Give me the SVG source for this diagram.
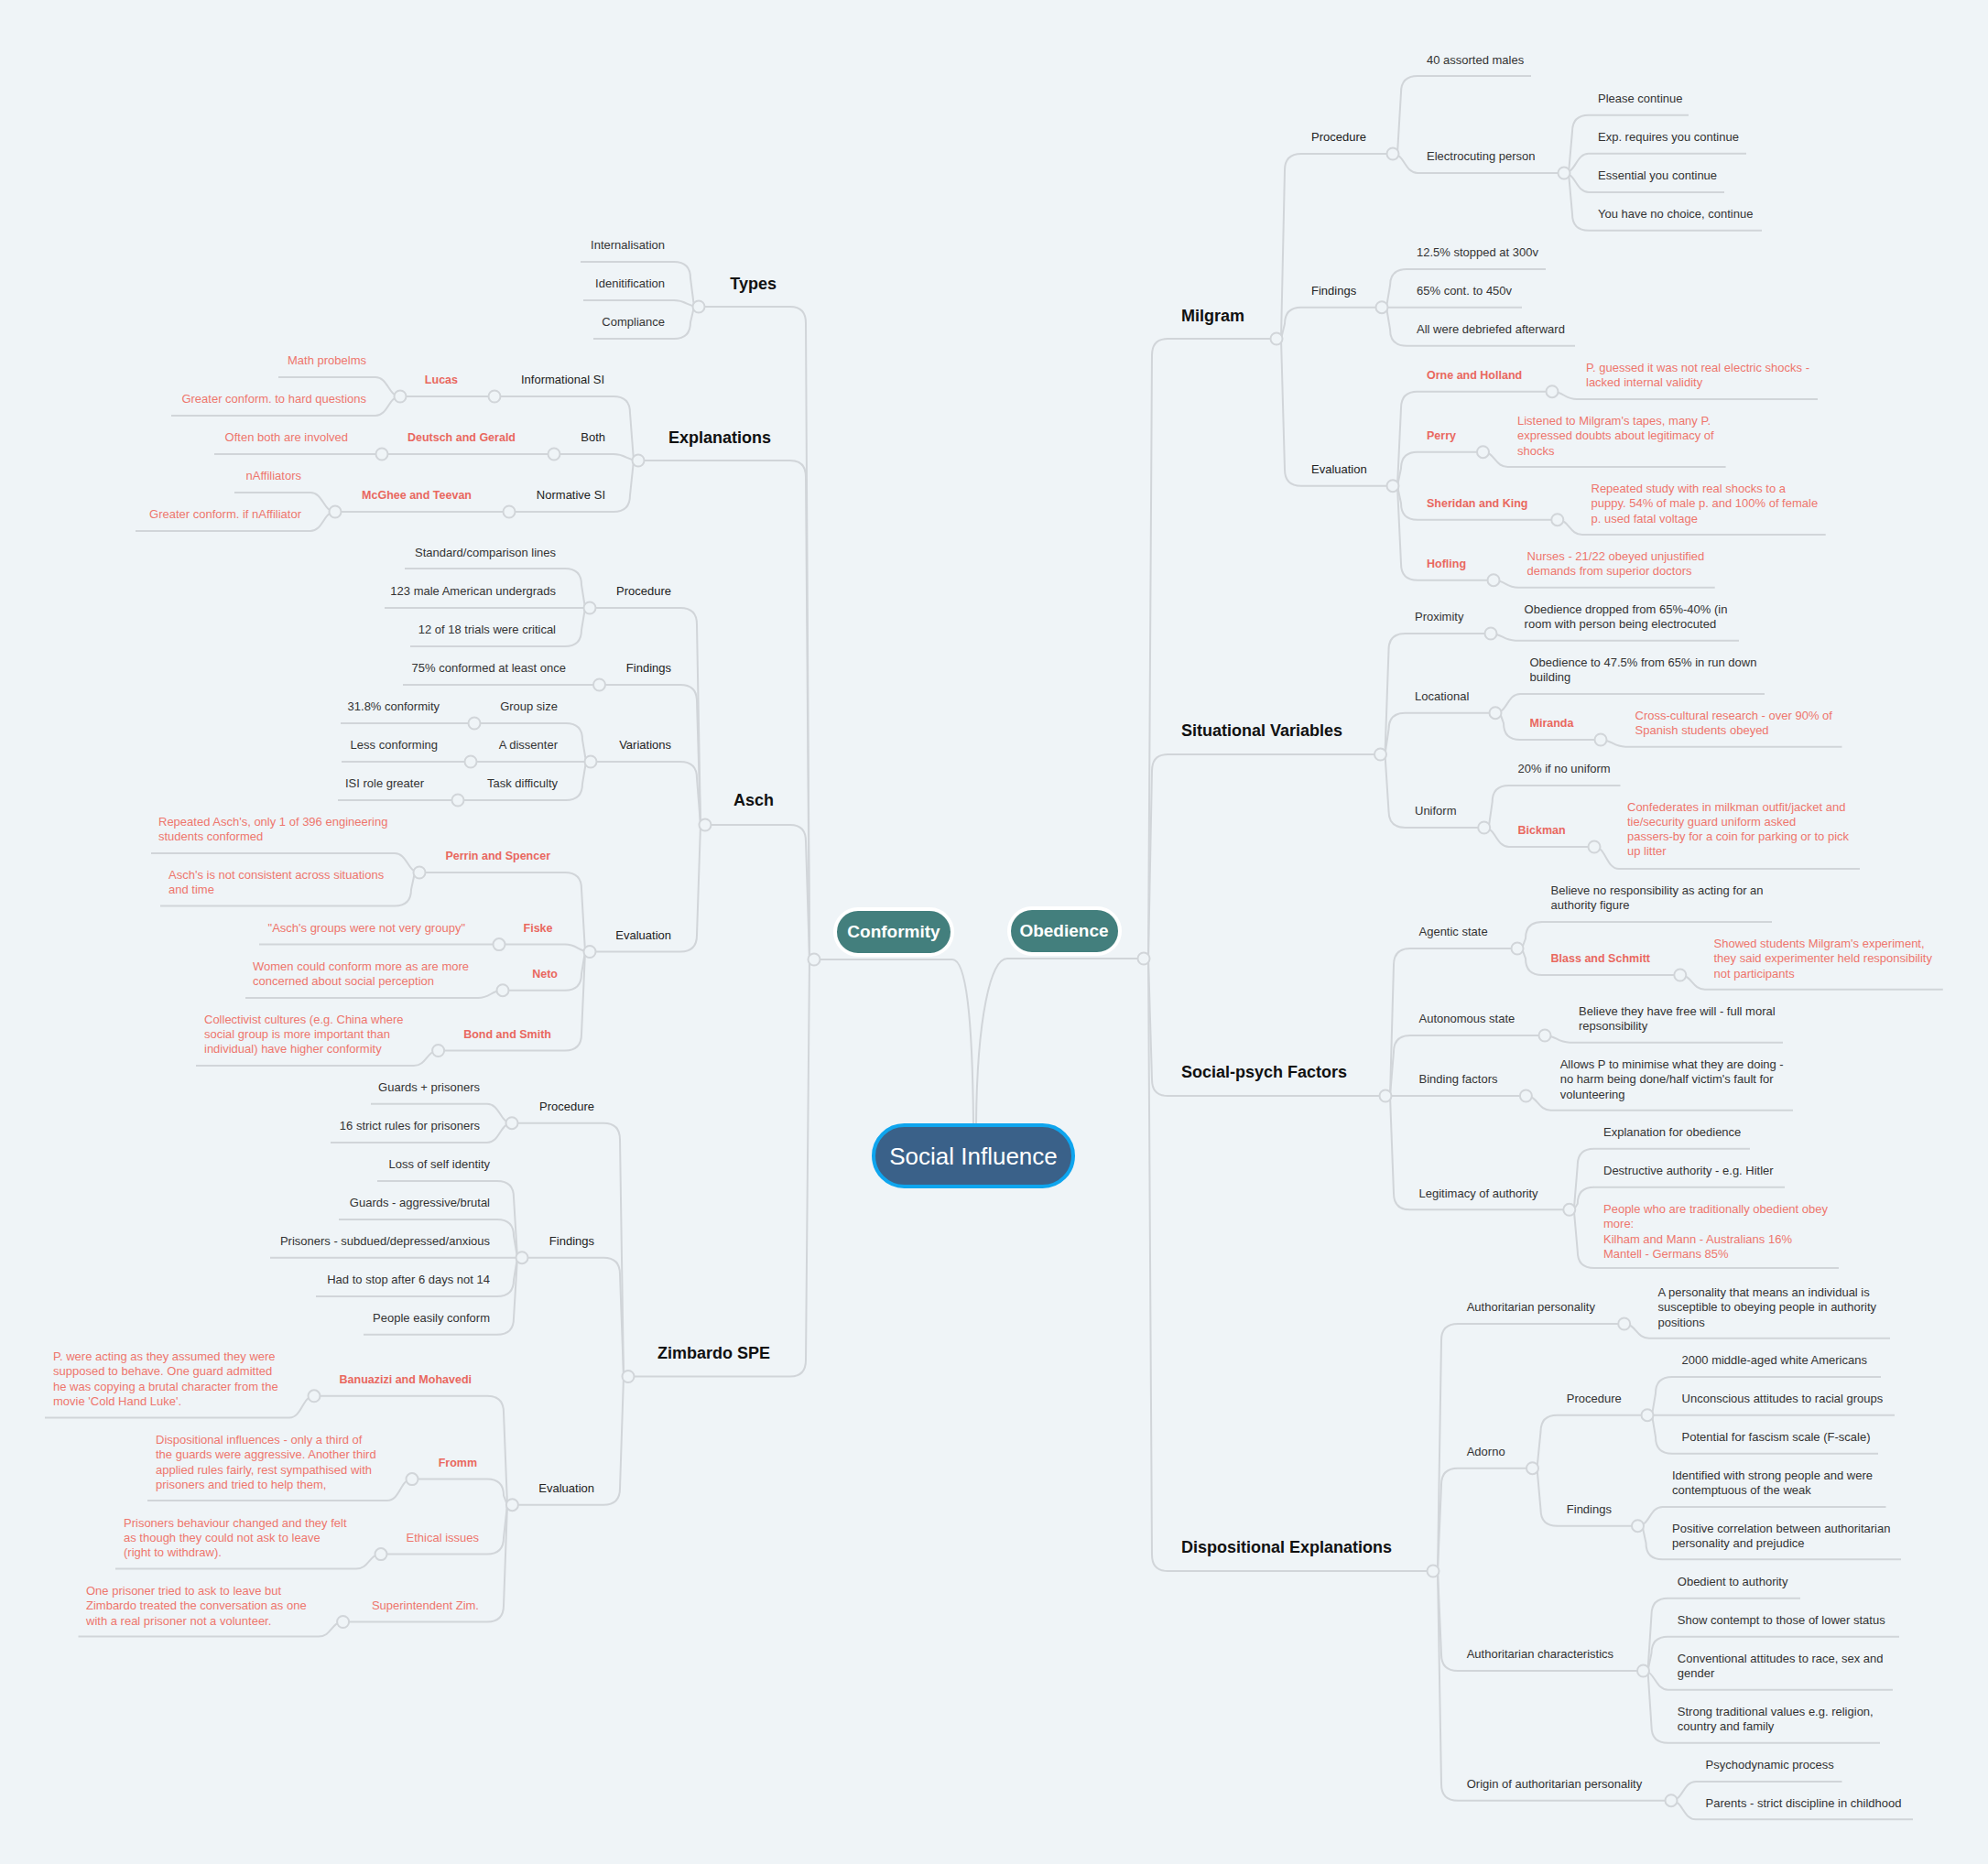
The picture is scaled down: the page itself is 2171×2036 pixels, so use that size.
<svg xmlns="http://www.w3.org/2000/svg" width="2171" height="2036" viewBox="0 0 2171 2036">
<style>
.ln{fill:none;stroke:#d1d5d9;stroke-width:2}
.dot{fill:#eff4f7;stroke:#d1d5d9;stroke-width:2}
text{font-family:"Liberation Sans",Arial,sans-serif;font-size:13px;fill:#333}
.e{text-anchor:end}
.r{fill:#ee766d}
.rb{fill:#e9685f;font-weight:bold;font-size:12.5px}
.h{fill:#111;font-weight:bold;font-size:18px}
.lbl{fill:#222}
.pill{fill:#437f7d;stroke:#fff;stroke-width:4}
.pt{fill:#fff;font-weight:bold;font-size:19px;text-anchor:middle}
</style>
<rect width="2171" height="2036" fill="#eff4f7"/>
<g id="connectors">
<path class="ln" d="M889 1048 H1040 C1055 1048 1062 1110 1063 1228"/>
<path class="ln" d="M1249 1047 H1100 C1082 1047 1067 1110 1066 1228"/>
<path class="ln" d="M763 335 H863 Q880 335 880 353 L884 1048"/>
<path class="ln" d="M697 503 H863 Q880 503 880 521 L884 1048"/>
<path class="ln" d="M770 901 H863 Q880 901 880 919 L884 1048"/>
<path class="ln" d="M686 1503.5 H863 Q880 1503.5 880 1485.5 L884 1048"/>
<path class="ln" d="M634 286 H736 Q754 286 754 304 L758 335"/>
<path class="ln" d="M637 328 H736 C750 328 750 335 763 335"/>
<path class="ln" d="M648 370 H736 Q754 370 754 352 L758 335"/>
<path class="ln" d="M540 433 H670 Q688 433 688 451 L692 503"/>
<path class="ln" d="M605 496 H670 C684 496 684 503 697 503"/>
<path class="ln" d="M556 559 H670 Q688 559 688 541 L692 503"/>
<path class="ln" d="M437 433 H540"/>
<path class="ln" d="M304 412 H410 C424 412 424 433 437 433"/>
<path class="ln" d="M187 454 H410 C424 454 424 433 437 433"/>
<path class="ln" d="M417 496 H605"/>
<path class="ln" d="M234 496 H417"/>
<path class="ln" d="M366 559 H556"/>
<path class="ln" d="M256 538 H339 C353 538 353 559 366 559"/>
<path class="ln" d="M148 580 H339 C353 580 353 559 366 559"/>
<path class="ln" d="M644 664 H743 Q761 664 761 682 L765 901"/>
<path class="ln" d="M654.5 748 H743 Q761 748 761 766 L765 901"/>
<path class="ln" d="M645 832 H743 Q761 832 761 850 L765 901"/>
<path class="ln" d="M644 1039.5 H743 Q761 1039.5 761 1021.5 L765 901"/>
<path class="ln" d="M442 621 H617 Q635 621 635 639 L639 664"/>
<path class="ln" d="M420 664 H644"/>
<path class="ln" d="M448 706 H617 Q635 706 635 688 L639 664"/>
<path class="ln" d="M440 748 H654.5"/>
<path class="ln" d="M518 790 H618 Q636 790 636 808 L640 832"/>
<path class="ln" d="M514 832 H645"/>
<path class="ln" d="M500 874 H618 Q636 874 636 856 L640 832"/>
<path class="ln" d="M372 790 H518"/>
<path class="ln" d="M373 832 H514"/>
<path class="ln" d="M369 874 H500"/>
<path class="ln" d="M458 953 H617 Q635 953 635 971 L639 1039.5"/>
<path class="ln" d="M545 1031.6 H617 C631 1031.6 631 1039.5 644 1039.5"/>
<path class="ln" d="M549 1081.7 H617 Q635 1081.7 635 1063.7 L639 1039.5"/>
<path class="ln" d="M478.6 1147.5 H617 Q635 1147.5 635 1129.5 L639 1039.5"/>
<path class="ln" d="M165 932 H431 C445 932 445 953 458 953"/>
<path class="ln" d="M175 989.5 H431 Q449 989.5 449 971.5 L453 953"/>
<path class="ln" d="M283 1031.6 H545"/>
<path class="ln" d="M268 1090 H522 C536 1090 536 1081.7 549 1081.7"/>
<path class="ln" d="M214 1164 H452 C466 1164 466 1147.5 478.6 1147.5"/>
<path class="ln" d="M559 1226.7 H659 Q677 1226.7 677 1244.7 L681 1503.5"/>
<path class="ln" d="M570 1373.7 H659 Q677 1373.7 677 1391.7 L681 1503.5"/>
<path class="ln" d="M559.4 1643.7 H659 Q677 1643.7 677 1625.7 L681 1503.5"/>
<path class="ln" d="M405 1205.8 H532 C546 1205.8 546 1226.7 559 1226.7"/>
<path class="ln" d="M361 1248 H532 C546 1248 546 1226.7 559 1226.7"/>
<path class="ln" d="M412 1290 H543 Q561 1290 561 1308 L565 1373.7"/>
<path class="ln" d="M370 1332 H543 Q561 1332 561 1350 L565 1373.7"/>
<path class="ln" d="M295 1373.7 H570"/>
<path class="ln" d="M345 1416 H543 Q561 1416 561 1398 L565 1373.7"/>
<path class="ln" d="M397 1457.7 H543 Q561 1457.7 561 1439.7 L565 1373.7"/>
<path class="ln" d="M343 1524.8 H532 Q550 1524.8 550 1542.8 L554 1643.7"/>
<path class="ln" d="M450 1615.6 H532 Q550 1615.6 550 1633.6 L554 1643.7"/>
<path class="ln" d="M416 1697.6 H532 Q550 1697.6 550 1679.6 L554 1643.7"/>
<path class="ln" d="M374.6 1771.5 H532 Q550 1771.5 550 1753.5 L554 1643.7"/>
<path class="ln" d="M49 1548.5 H316 C330 1548.5 330 1524.8 343 1524.8"/>
<path class="ln" d="M161 1639 H423 C437 1639 437 1615.6 450 1615.6"/>
<path class="ln" d="M126 1713.6 H389 C403 1713.6 403 1697.6 416 1697.6"/>
<path class="ln" d="M85.5 1787.6 H348 C362 1787.6 362 1771.5 374.6 1771.5"/>
<path class="ln" d="M1394 370 H1275 Q1258 370 1258 388 L1254 1047"/>
<path class="ln" d="M1507.5 824 H1275 Q1258 824 1258 842 L1254 1047"/>
<path class="ln" d="M1513 1197 H1275 Q1258 1197 1258 1179 L1254 1047"/>
<path class="ln" d="M1565 1716 H1275 Q1258 1716 1258 1698 L1254 1047"/>
<path class="ln" d="M1521 168 H1421 Q1403 168 1403 186 L1399 370"/>
<path class="ln" d="M1509 335.7 H1421 Q1403 335.7 1403 353.7 L1399 370"/>
<path class="ln" d="M1521 530.7 H1421 Q1403 530.7 1403 512.7 L1399 370"/>
<path class="ln" d="M1672 83 H1548 Q1530 83 1530 101 L1526 168"/>
<path class="ln" d="M1708 189 H1548 C1534 189 1534 168 1521 168"/>
<path class="ln" d="M1844 125.7 H1735 Q1717 125.7 1717 143.7 L1713 189"/>
<path class="ln" d="M1907 167.7 H1735 C1721 167.7 1721 189 1708 189"/>
<path class="ln" d="M1883 210 H1735 C1721 210 1721 189 1708 189"/>
<path class="ln" d="M1924 251.7 H1735 Q1717 251.7 1717 233.7 L1713 189"/>
<path class="ln" d="M1688 294 H1536 Q1518 294 1518 312 L1514 335.7"/>
<path class="ln" d="M1662 335.7 H1509"/>
<path class="ln" d="M1720 377.7 H1536 Q1518 377.7 1518 359.7 L1514 335.7"/>
<path class="ln" d="M1695 427.7 H1548 Q1530 427.7 1530 445.7 L1526 530.7"/>
<path class="ln" d="M1619.5 493.7 H1548 Q1530 493.7 1530 511.7 L1526 530.7"/>
<path class="ln" d="M1700.8 567.7 H1548 Q1530 567.7 1530 549.7 L1526 530.7"/>
<path class="ln" d="M1631 633.7 H1548 Q1530 633.7 1530 615.7 L1526 530.7"/>
<path class="ln" d="M1985 436 H1722 C1708 436 1708 427.7 1695 427.7"/>
<path class="ln" d="M1884.6 510 H1646.5 C1632.5 510 1632.5 493.7 1619.5 493.7"/>
<path class="ln" d="M1993.7 584 H1727.8 C1713.8 584 1713.8 567.7 1700.8 567.7"/>
<path class="ln" d="M1872.7 641.7 H1658 C1644 641.7 1644 633.7 1631 633.7"/>
<path class="ln" d="M1628 692 H1534.5 Q1516.5 692 1516.5 710 L1512.5 824"/>
<path class="ln" d="M1633 778.7 H1534.5 Q1516.5 778.7 1516.5 796.7 L1512.5 824"/>
<path class="ln" d="M1620.7 904 H1534.5 Q1516.5 904 1516.5 886 L1512.5 824"/>
<path class="ln" d="M1899 699.7 H1655 C1641 699.7 1641 692 1628 692"/>
<path class="ln" d="M1927 758 H1660 C1646 758 1646 778.7 1633 778.7"/>
<path class="ln" d="M1748 808 H1660 Q1642 808 1642 790 L1638 778.7"/>
<path class="ln" d="M2011.5 815.7 H1775 C1761 815.7 1761 808 1748 808"/>
<path class="ln" d="M1769.5 858 H1647.7 Q1629.7 858 1629.7 876 L1625.7 904"/>
<path class="ln" d="M1741 925 H1647.7 C1633.7 925 1633.7 904 1620.7 904"/>
<path class="ln" d="M2031 949 H1768 C1754 949 1754 925 1741 925"/>
<path class="ln" d="M1657 1036 H1540 Q1522 1036 1522 1054 L1518 1197"/>
<path class="ln" d="M1687 1131 H1540 Q1522 1131 1522 1149 L1518 1197"/>
<path class="ln" d="M1666.4 1197 H1513"/>
<path class="ln" d="M1713.8 1321.3 H1540 Q1522 1321.3 1522 1303.3 L1518 1197"/>
<path class="ln" d="M1935 1007 H1684 Q1666 1007 1666 1025 L1662 1036"/>
<path class="ln" d="M1834.8 1065 H1684 Q1666 1065 1666 1047 L1662 1036"/>
<path class="ln" d="M2121.8 1080.7 H1861.8 C1847.8 1080.7 1847.8 1065 1834.8 1065"/>
<path class="ln" d="M1947 1138.7 H1714 C1700 1138.7 1700 1131 1687 1131"/>
<path class="ln" d="M1958 1212.7 H1693.4 C1679.4 1212.7 1679.4 1197 1666.4 1197"/>
<path class="ln" d="M1911 1254.7 H1740.8 Q1722.8 1254.7 1722.8 1272.7 L1718.8 1321.3"/>
<path class="ln" d="M1949 1296.7 H1740.8 Q1722.8 1296.7 1722.8 1314.7 L1718.8 1321.3"/>
<path class="ln" d="M2008 1385 H1740.8 Q1722.8 1385 1722.8 1367 L1718.8 1321.3"/>
<path class="ln" d="M1773.7 1446 H1592 Q1574 1446 1574 1464 L1570 1716"/>
<path class="ln" d="M1673.5 1603.7 H1592 Q1574 1603.7 1574 1621.7 L1570 1716"/>
<path class="ln" d="M1794.5 1825 H1592 Q1574 1825 1574 1807 L1570 1716"/>
<path class="ln" d="M1825 1966.7 H1592 Q1574 1966.7 1574 1948.7 L1570 1716"/>
<path class="ln" d="M2064 1461.7 H1800.7 C1786.7 1461.7 1786.7 1446 1773.7 1446"/>
<path class="ln" d="M1799 1545.7 H1700.5 Q1682.5 1545.7 1682.5 1563.7 L1678.5 1603.7"/>
<path class="ln" d="M1788.5 1666.7 H1700.5 Q1682.5 1666.7 1682.5 1648.7 L1678.5 1603.7"/>
<path class="ln" d="M2054 1504 H1826 Q1808 1504 1808 1522 L1804 1545.7"/>
<path class="ln" d="M2069 1545.7 H1799"/>
<path class="ln" d="M2051 1587.7 H1826 Q1808 1587.7 1808 1569.7 L1804 1545.7"/>
<path class="ln" d="M2059.5 1646 H1815.5 C1801.5 1646 1801.5 1666.7 1788.5 1666.7"/>
<path class="ln" d="M2076 1703.3 H1815.5 Q1797.5 1703.3 1797.5 1685.3 L1793.5 1666.7"/>
<path class="ln" d="M1966 1745.7 H1821.5 Q1803.5 1745.7 1803.5 1763.7 L1799.5 1825"/>
<path class="ln" d="M2074 1787.7 H1821.5 Q1803.5 1787.7 1803.5 1805.7 L1799.5 1825"/>
<path class="ln" d="M2067 1845.7 H1821.5 C1807.5 1845.7 1807.5 1825 1794.5 1825"/>
<path class="ln" d="M2053 1903.7 H1821.5 Q1803.5 1903.7 1803.5 1885.7 L1799.5 1825"/>
<path class="ln" d="M2011.5 1946 H1852 C1838 1946 1838 1966.7 1825 1966.7"/>
<path class="ln" d="M2089 1987.3 H1852 C1838 1987.3 1838 1966.7 1825 1966.7"/>
</g>

<g id="root"><rect x="954" y="1229" width="218" height="67" rx="33.5" fill="#3a6189" stroke="#0ea5ee" stroke-width="4"/><text x="1063" y="1272" style="font-size:26px;fill:#fff;text-anchor:middle">Social Influence</text></g>
<g id="conformity"><rect class="pill" x="912" y="993" width="128" height="50" rx="25"/><text class="pt" x="976" y="1024">Conformity</text><circle class="dot" cx="889" cy="1048" r="6.5"/></g>
<g id="obedience"><rect class="pill" x="1102" y="992" width="121" height="50" rx="25"/><text class="pt" x="1162" y="1023">Obedience</text><circle class="dot" cx="1249" cy="1047" r="6.5"/></g>

<g id="types"><text class="h e" x="848" y="315.5">Types</text><circle class="dot" cx="763" cy="335" r="6.5"/></g>
<g id="internalisation"><text class="e" x="726" y="271.5">Internalisation</text></g>
<g id="identification"><text class="e" x="726" y="313.5">Idenitification</text></g>
<g id="compliance"><text class="e" x="726" y="355.5">Compliance</text></g>

<g id="explanations"><text class="h e" x="842" y="483.5">Explanations</text><circle class="dot" cx="697" cy="503" r="6.5"/></g>
<g id="informational"><text class="lbl e" x="660" y="418.5">Informational SI</text><circle class="dot" cx="540" cy="433" r="6.5"/></g>
<g id="lucas"><text class="rb e" x="500" y="418.5">Lucas</text><circle class="dot" cx="437" cy="433" r="6.5"/></g>
<g id="math"><text class="r e" x="400" y="397.5">Math probelms</text></g>
<g id="greater-hard"><text class="r e" x="400" y="439.5">Greater conform. to hard questions</text></g>
<g id="both"><text class="lbl e" x="661" y="481.5">Both</text><circle class="dot" cx="605" cy="496" r="6.5"/></g>
<g id="deutsch"><text class="rb e" x="563" y="481.5">Deutsch and Gerald</text><circle class="dot" cx="417" cy="496" r="6.5"/></g>
<g id="often-both"><text class="r e" x="380" y="481.5">Often both are involved</text></g>
<g id="normative"><text class="lbl e" x="661" y="544.5">Normative SI</text><circle class="dot" cx="556" cy="559" r="6.5"/></g>
<g id="mcghee"><text class="rb e" x="515" y="544.5">McGhee and Teevan</text><circle class="dot" cx="366" cy="559" r="6.5"/></g>
<g id="naffiliators"><text class="r e" x="329" y="523.5">nAffiliators</text></g>
<g id="greater-naff"><text class="r e" x="329" y="565.5">Greater conform. if nAffiliator</text></g>

<g id="asch"><text class="h e" x="845" y="880">Asch</text><circle class="dot" cx="770" cy="901" r="6.5"/></g>
<g id="asch-procedure"><text class="lbl e" x="733" y="649.5">Procedure</text><circle class="dot" cx="644" cy="664" r="6.5"/></g>
<g id="standard"><text class="e" x="607" y="607.5">Standard/comparison lines</text></g>
<g id="male123"><text class="e" x="607" y="649.5">123 male American undergrads</text></g>
<g id="trials"><text class="e" x="607" y="691.5">12 of 18 trials were critical</text></g>
<g id="asch-findings"><text class="lbl e" x="733" y="733.5">Findings</text><circle class="dot" cx="654.5" cy="748" r="6.5"/></g>
<g id="conformed75"><text class="e" x="618" y="733.5">75% conformed at least once</text></g>
<g id="variations"><text class="lbl e" x="733" y="817.5">Variations</text><circle class="dot" cx="645" cy="832" r="6.5"/></g>
<g id="group-size"><text class="e" x="609" y="775.5">Group size</text><circle class="dot" cx="518" cy="790" r="6.5"/></g>
<g id="conf318"><text class="e" x="480" y="775.5">31.8% conformity</text></g>
<g id="dissenter"><text class="e" x="609" y="817.5">A dissenter</text><circle class="dot" cx="514" cy="832" r="6.5"/></g>
<g id="less-conf"><text class="e" x="478" y="817.5">Less conforming</text></g>
<g id="task-diff"><text class="e" x="609" y="859.5">Task difficulty</text><circle class="dot" cx="500" cy="874" r="6.5"/></g>
<g id="isi-role"><text class="e" x="463" y="859.5">ISI role greater</text></g>
<g id="asch-eval"><text class="lbl e" x="733" y="1026">Evaluation</text><circle class="dot" cx="644" cy="1039.5" r="6.5"/></g>
<g id="perrin"><text class="rb e" x="601" y="939">Perrin and Spencer</text><circle class="dot" cx="458" cy="953" r="6.5"/></g>
<g id="perrin-1"><text class="r"><tspan x="173" y="901.5">Repeated Asch's, only 1 of 396 engineering</tspan><tspan x="173" y="918">students conformed</tspan></text></g>
<g id="perrin-2"><text class="r"><tspan x="184" y="959.5">Asch's is not consistent across situations</tspan><tspan x="184" y="976">and time</tspan></text></g>
<g id="fiske"><text class="rb e" x="603.5" y="1017.5">Fiske</text><circle class="dot" cx="545" cy="1031.6" r="6.5"/></g>
<g id="fiske-1"><text class="r e" x="508" y="1017.5">"Asch's groups were not very groupy"</text></g>
<g id="neto"><text class="rb e" x="609" y="1067.5">Neto</text><circle class="dot" cx="549" cy="1081.7" r="6.5"/></g>
<g id="neto-1"><text class="r"><tspan x="276" y="1059.5">Women could conform more as are more</tspan><tspan x="276" y="1076">concerned about social perception</tspan></text></g>
<g id="bond"><text class="rb e" x="602" y="1134">Bond and Smith</text><circle class="dot" cx="478.6" cy="1147.5" r="6.5"/></g>
<g id="bond-1"><text class="r"><tspan x="223" y="1117.5">Collectivist cultures (e.g. China where</tspan><tspan x="223" y="1134">social group is more important than</tspan><tspan x="223" y="1150.3">individual) have higher conformity</tspan></text></g>

<g id="zimbardo"><text class="h e" x="841" y="1484.3">Zimbardo SPE</text><circle class="dot" cx="686" cy="1503.5" r="6.5"/></g>
<g id="zim-procedure"><text class="lbl e" x="649" y="1213">Procedure</text><circle class="dot" cx="559" cy="1226.7" r="6.5"/></g>
<g id="guards-prisoners"><text class="e" x="524" y="1192">Guards + prisoners</text></g>
<g id="rules16"><text class="e" x="524" y="1234">16 strict rules for prisoners</text></g>
<g id="zim-findings"><text class="lbl e" x="649" y="1359.5">Findings</text><circle class="dot" cx="570" cy="1373.7" r="6.5"/></g>
<g id="loss-self"><text class="e" x="535" y="1275.5">Loss of self identity</text></g>
<g id="guards-agg"><text class="e" x="535" y="1318">Guards - aggressive/brutal</text></g>
<g id="prisoners-sub"><text class="e" x="535" y="1359.5">Prisoners - subdued/depressed/anxious</text></g>
<g id="had-stop"><text class="e" x="535" y="1401.5">Had to stop after 6 days not 14</text></g>
<g id="people-conform"><text class="e" x="535" y="1444">People easily conform</text></g>
<g id="zim-eval"><text class="lbl e" x="649" y="1629.5">Evaluation</text><circle class="dot" cx="559.4" cy="1643.7" r="6.5"/></g>
<g id="banuazizi"><text class="rb e" x="515" y="1510.5">Banuazizi and Mohavedi</text><circle class="dot" cx="343" cy="1524.8" r="6.5"/></g>
<g id="banuazizi-1"><text class="r"><tspan x="58" y="1486">P. were acting as they assumed they were</tspan><tspan x="58" y="1502.3">supposed to behave. One guard admitted</tspan><tspan x="58" y="1518.6">he was copying a brutal character from the</tspan><tspan x="58" y="1534.9">movie 'Cold Hand Luke'.</tspan></text></g>
<g id="fromm"><text class="rb e" x="521" y="1601.5">Fromm</text><circle class="dot" cx="450" cy="1615.6" r="6.5"/></g>
<g id="fromm-1"><text class="r"><tspan x="170" y="1577">Dispositional influences - only a third of</tspan><tspan x="170" y="1593.3">the guards were aggressive. Another third</tspan><tspan x="170" y="1609.6">applied rules fairly, rest sympathised with</tspan><tspan x="170" y="1625.9">prisoners and tried to help them,</tspan></text></g>
<g id="ethical"><text class="r e" x="523" y="1683.5">Ethical issues</text><circle class="dot" cx="416" cy="1697.6" r="6.5"/></g>
<g id="ethical-1"><text class="r"><tspan x="135" y="1667.5">Prisoners behaviour changed and they felt</tspan><tspan x="135" y="1683.8">as though they could not ask to leave</tspan><tspan x="135" y="1700.1">(right to withdraw).</tspan></text></g>
<g id="superintendent"><text class="r e" x="523" y="1757.5">Superintendent Zim.</text><circle class="dot" cx="374.6" cy="1771.5" r="6.5"/></g>
<g id="superintendent-1"><text class="r"><tspan x="94" y="1742">One prisoner tried to ask to leave but</tspan><tspan x="94" y="1758.3">Zimbardo treated the conversation as one</tspan><tspan x="94" y="1774.6">with a real prisoner not a volunteer.</tspan></text></g>

<g id="milgram"><text class="h" x="1290" y="350.5">Milgram</text><circle class="dot" cx="1394" cy="370" r="6.5"/></g>
<g id="mil-procedure"><text class="lbl" x="1432" y="153.5">Procedure</text><circle class="dot" cx="1521" cy="168" r="6.5"/></g>
<g id="males40"><text x="1558" y="70">40 assorted males</text></g>
<g id="electrocuting"><text x="1558" y="174.5">Electrocuting person</text><circle class="dot" cx="1708" cy="189" r="6.5"/></g>
<g id="please"><text x="1745" y="111.5">Please continue</text></g>
<g id="exp-requires"><text x="1745" y="153.5">Exp. requires you continue</text></g>
<g id="essential"><text x="1745" y="195.5">Essential you continue</text></g>
<g id="no-choice"><text x="1745" y="237.5">You have no choice, continue</text></g>
<g id="mil-findings"><text class="lbl" x="1432" y="321.5">Findings</text><circle class="dot" cx="1509" cy="335.7" r="6.5"/></g>
<g id="stopped"><text x="1547" y="280">12.5% stopped at 300v</text></g>
<g id="cont65"><text x="1547" y="321.5">65% cont. to 450v</text></g>
<g id="debriefed"><text x="1547" y="363.5">All were debriefed afterward</text></g>
<g id="mil-eval"><text class="lbl" x="1432" y="516.5">Evaluation</text><circle class="dot" cx="1521" cy="530.7" r="6.5"/></g>
<g id="orne"><text class="rb" x="1558" y="413.5">Orne and Holland</text><circle class="dot" cx="1695" cy="427.7" r="6.5"/></g>
<g id="orne-1"><text class="r"><tspan x="1732" y="406">P. guessed it was not real electric shocks -</tspan><tspan x="1732" y="422.3">lacked internal validity</tspan></text></g>
<g id="perry"><text class="rb" x="1558" y="480">Perry</text><circle class="dot" cx="1619.5" cy="493.7" r="6.5"/></g>
<g id="perry-1"><text class="r"><tspan x="1657" y="464">Listened to Milgram's tapes, many P.</tspan><tspan x="1657" y="480.3">expressed doubts about legitimacy of</tspan><tspan x="1657" y="496.6">shocks</tspan></text></g>
<g id="sheridan"><text class="rb" x="1558" y="553.5">Sheridan and King</text><circle class="dot" cx="1700.8" cy="567.7" r="6.5"/></g>
<g id="sheridan-1"><text class="r"><tspan x="1737.5" y="538">Repeated study with real shocks to a</tspan><tspan x="1737.5" y="554.3">puppy. 54% of male p. and 100% of female</tspan><tspan x="1737.5" y="570.6">p. used fatal voltage</tspan></text></g>
<g id="hofling"><text class="rb" x="1558" y="620">Hofling</text><circle class="dot" cx="1631" cy="633.7" r="6.5"/></g>
<g id="hofling-1"><text class="r"><tspan x="1667.6" y="612">Nurses - 21/22 obeyed unjustified</tspan><tspan x="1667.6" y="628.3">demands from superior doctors</tspan></text></g>

<g id="situational"><text class="h" x="1290" y="803.5">Situational Variables</text><circle class="dot" cx="1507.5" cy="824" r="6.5"/></g>
<g id="proximity"><text x="1545" y="677.5">Proximity</text><circle class="dot" cx="1628" cy="692" r="6.5"/></g>
<g id="proximity-1"><text><tspan x="1664.6" y="670">Obedience dropped from 65%-40% (in</tspan><tspan x="1664.6" y="686.3">room with person being electrocuted</tspan></text></g>
<g id="locational"><text x="1545" y="764.5">Locational</text><circle class="dot" cx="1633" cy="778.7" r="6.5"/></g>
<g id="locational-1"><text><tspan x="1670.5" y="728">Obedience to 47.5% from 65% in run down</tspan><tspan x="1670.5" y="744.3">building</tspan></text></g>
<g id="miranda"><text class="rb" x="1670.5" y="794">Miranda</text><circle class="dot" cx="1748" cy="808" r="6.5"/></g>
<g id="miranda-1"><text class="r"><tspan x="1785.6" y="786">Cross-cultural research - over 90% of</tspan><tspan x="1785.6" y="802.3">Spanish students obeyed</tspan></text></g>
<g id="uniform"><text x="1545" y="890">Uniform</text><circle class="dot" cx="1620.7" cy="904" r="6.5"/></g>
<g id="no-uniform"><text x="1657.5" y="844">20% if no uniform</text></g>
<g id="bickman"><text class="rb" x="1657.5" y="911">Bickman</text><circle class="dot" cx="1741" cy="925" r="6.5"/></g>
<g id="bickman-1"><text class="r"><tspan x="1777" y="885.5">Confederates in milkman outfit/jacket and</tspan><tspan x="1777" y="901.8">tie/security guard uniform asked</tspan><tspan x="1777" y="918.1">passers-by for a coin for parking or to pick</tspan><tspan x="1777" y="934.4">up litter</tspan></text></g>

<g id="socialpsych"><text class="h" x="1290" y="1177">Social-psych Factors</text><circle class="dot" cx="1513" cy="1197" r="6.5"/></g>
<g id="agentic"><text x="1549.5" y="1022">Agentic state</text><circle class="dot" cx="1657" cy="1036" r="6.5"/></g>
<g id="agentic-1"><text><tspan x="1693.6" y="977">Believe no responsibility as acting for an</tspan><tspan x="1693.6" y="993.3">authority figure</tspan></text></g>
<g id="blass"><text class="rb" x="1693.6" y="1051">Blass and Schmitt</text><circle class="dot" cx="1834.8" cy="1065" r="6.5"/></g>
<g id="blass-1"><text class="r"><tspan x="1871.5" y="1035">Showed students Milgram's experiment,</tspan><tspan x="1871.5" y="1051.3">they said experimenter held responsibility</tspan><tspan x="1871.5" y="1067.6">not participants</tspan></text></g>
<g id="autonomous"><text x="1549.5" y="1117">Autonomous state</text><circle class="dot" cx="1687" cy="1131" r="6.5"/></g>
<g id="autonomous-1"><text><tspan x="1724" y="1109">Believe they have free will - full moral</tspan><tspan x="1724" y="1125.3">repsonsibility</tspan></text></g>
<g id="binding"><text x="1549.5" y="1183">Binding factors</text><circle class="dot" cx="1666.4" cy="1197" r="6.5"/></g>
<g id="binding-1"><text><tspan x="1703.7" y="1167">Allows P to minimise what they are doing -</tspan><tspan x="1703.7" y="1183.3">no harm being done/half victim's fault for</tspan><tspan x="1703.7" y="1199.6">volunteering</tspan></text></g>
<g id="legitimacy"><text x="1549.5" y="1308">Legitimacy of authority</text><circle class="dot" cx="1713.8" cy="1321.3" r="6.5"/></g>
<g id="explanation-obed"><text x="1751" y="1241">Explanation for obedience</text></g>
<g id="destructive"><text x="1751" y="1283">Destructive authority - e.g. Hitler</text></g>
<g id="traditionally"><text class="r"><tspan x="1751" y="1325">People who are traditionally obedient obey</tspan><tspan x="1751" y="1341.3">more:</tspan><tspan x="1751" y="1357.6">Kilham and Mann - Australians 16%</tspan><tspan x="1751" y="1373.9">Mantell - Germans 85%</tspan></text></g>

<g id="dispositional"><text class="h" x="1290" y="1695.5">Dispositional Explanations</text><circle class="dot" cx="1565" cy="1716" r="6.5"/></g>
<g id="auth-personality"><text x="1601.7" y="1432">Authoritarian personality</text><circle class="dot" cx="1773.7" cy="1446" r="6.5"/></g>
<g id="auth-personality-1"><text><tspan x="1810.5" y="1416">A personality that means an individual is</tspan><tspan x="1810.5" y="1432.3">susceptible to obeying people in authority</tspan><tspan x="1810.5" y="1448.6">positions</tspan></text></g>
<g id="adorno"><text x="1601.7" y="1590">Adorno</text><circle class="dot" cx="1673.5" cy="1603.7" r="6.5"/></g>
<g id="adorno-procedure"><text x="1710.8" y="1532">Procedure</text><circle class="dot" cx="1799" cy="1545.7" r="6.5"/></g>
<g id="americans2000"><text x="1836.6" y="1490">2000 middle-aged white Americans</text></g>
<g id="unconscious"><text x="1836.6" y="1532">Unconscious attitudes to racial groups</text></g>
<g id="fscale"><text x="1836.6" y="1574">Potential for fascism scale (F-scale)</text></g>
<g id="adorno-findings"><text x="1710.8" y="1653">Findings</text><circle class="dot" cx="1788.5" cy="1666.7" r="6.5"/></g>
<g id="identified"><text><tspan x="1826" y="1616">Identified with strong people and were</tspan><tspan x="1826" y="1632.3">contemptuous of the weak</tspan></text></g>
<g id="positive-corr"><text><tspan x="1826" y="1674">Positive correlation between authoritarian</tspan><tspan x="1826" y="1690.3">personality and prejudice</tspan></text></g>
<g id="auth-characteristics"><text x="1601.7" y="1811">Authoritarian characteristics</text><circle class="dot" cx="1794.5" cy="1825" r="6.5"/></g>
<g id="obedient-auth"><text x="1831.8" y="1732">Obedient to authority</text></g>
<g id="contempt"><text x="1831.8" y="1774">Show contempt to those of lower status</text></g>
<g id="conventional"><text><tspan x="1831.8" y="1816">Conventional attitudes to race, sex and</tspan><tspan x="1831.8" y="1832.3">gender</tspan></text></g>
<g id="traditional-values"><text><tspan x="1831.8" y="1874">Strong traditional values e.g. religion,</tspan><tspan x="1831.8" y="1890.3">country and family</tspan></text></g>
<g id="origin"><text x="1601.7" y="1953">Origin of authoritarian personality</text><circle class="dot" cx="1825" cy="1966.7" r="6.5"/></g>
<g id="psychodynamic"><text x="1862.6" y="1932">Psychodynamic process</text></g>
<g id="parents"><text x="1862.6" y="1974">Parents - strict discipline in childhood</text></g>
</svg>
